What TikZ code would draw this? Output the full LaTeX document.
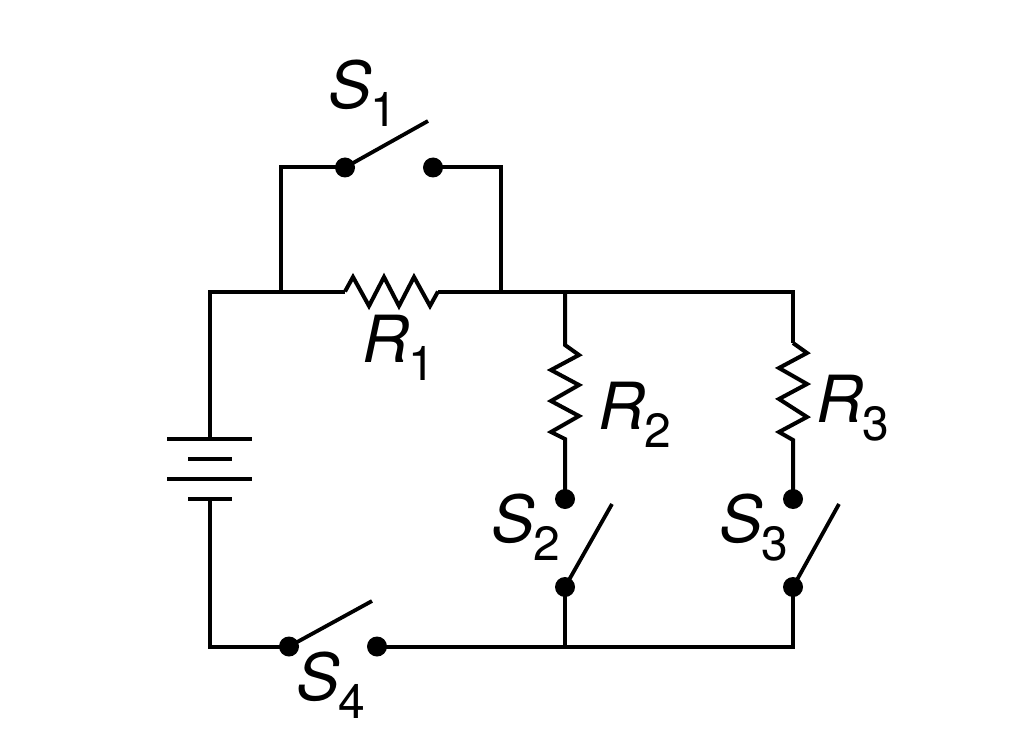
\documentclass[tikz,border=0pt]{standalone}
\usepackage{fontspec}
\setmainfont{TeX Gyre Heros}
\usetikzlibrary{positioning}
\newcommand{\elabel}[2]{\fontsize{65}{70}\selectfont\textit{#1}\kern-1pt\raisebox{-18pt}{\fontsize{48}{50}\selectfont #2}}
\tikzset{
  wire/.style={line width=4pt,line cap=butt,line join=miter},
  blade/.style={line width=3.8pt},
  contact/.style={circle,fill=black,inner sep=0pt,minimum size=20pt},
  elabel/.style={inner sep=0pt,anchor=base west},
}
\begin{document}
\begin{tikzpicture}[x=1pt,y=-1pt]
\useasboundingbox (0,0) rectangle (1024,735);
\coordinate (TL) at (209.5,291.5);
\coordinate (A) at (281,291.5);
\coordinate (B) at (501,291.5);
\coordinate (C) at (565,291.5);
\coordinate (TR) at (793,291.5);
\coordinate (AU) at (281,167.5);
\coordinate (BU) at (501,167.5);
\coordinate (BL) at (209.5,646.5);
\coordinate (D) at (565,646.5);
\coordinate (BR) at (793,646.5);
\coordinate (R1a) at (345,291.5);
\coordinate (R1b) at (438,291.5);
\coordinate (R2a) at (565,345);
\coordinate (R2b) at (565,439);
\coordinate (R3a) at (793,343);
\coordinate (R3b) at (793,440);
\coordinate (BATa) at (209.5,439);
\coordinate (BATb) at (209.5,499);
\node[contact] (S1a) at (345,167.5) {};
\node[contact] (S1b) at (433,167.5) {};
\node[contact] (S2a) at (565,499) {};
\node[contact] (S2b) at (565,587) {};
\node[contact] (S3a) at (793,499) {};
\node[contact] (S3b) at (793,587) {};
\node[contact] (S4a) at (289,646.5) {};
\node[contact] (S4b) at (377,646.5) {};
\coordinate (S1t) at (428,121);
\coordinate (S2t) at (612,504);
\coordinate (S3t) at (839,504);
\coordinate (S4t) at (372,601);
\draw[wire] (A) -- (AU) -- (S1a.center);
\draw[wire] (S1b.center) -- (BU) -- (B);
\draw[wire] (R1a) -- (TL) -- (BATa);
\draw[wire] (R1b) -- (TR) -- (R3a);
\draw[wire] (R1a) -- (353,277) -- (369,306) -- (384,277) -- (399,306) -- (414,277) -- (430,306) -- (R1b);
\draw[wire] (C) -- (R2a) -- (579,355) -- (551,370) -- (579,385) -- (551,401) -- (579,416) -- (551,432) -- (R2b) -- (S2a.center);
\draw[wire] (R3a) -- (807,353) -- (779,368) -- (807,384) -- (779,399) -- (807,417) -- (779,432) -- (R3b) -- (S3a.center);
\draw[wire] (BATb) -- (BL) -- (S4a.center);
\draw[wire] (S4b.center) -- (BR) -- (S3b.center);
\draw[wire] (S2b.center) -- (D);
\draw[wire] (167,439) -- (252,439);
\draw[wire] (188,459) -- (232,459);
\draw[wire] (167,479) -- (252,479);
\draw[wire] (188,499) -- (232,499);
\draw[blade] (S1a.center) -- (S1t);
\draw[blade] (S2b.center) -- (S2t);
\draw[blade] (S3b.center) -- (S3t);
\draw[blade] (S4a.center) -- (S4t);
\node[elabel] (LS1) at (328,109) {\elabel{S}{1}};
\node[elabel] (LR1) at (362,362) {\elabel{R}{1}};
\node[elabel] (LR2) at (598,429) {\elabel{R}{2}};
\node[elabel] (LR3) at (816,422) {\elabel{R}{3}};
\node[elabel] (LS2) at (491,542) {\elabel{S}{2}};
\node[elabel] (LS3) at (719,542) {\elabel{S}{3}};
\node[elabel] (LS4) at (296,700) {\elabel{S}{4}};
\end{tikzpicture}
\end{document}
